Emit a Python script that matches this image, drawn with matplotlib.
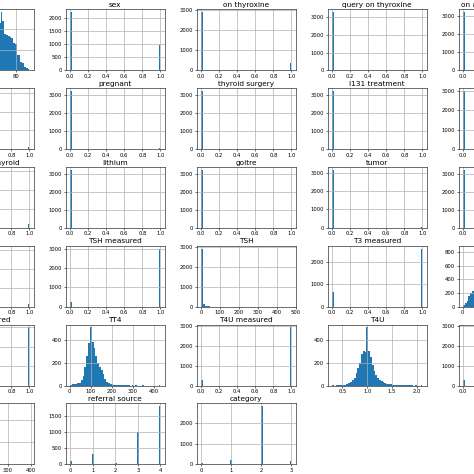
import numpy as np
import matplotlib
matplotlib.use("Agg")
import matplotlib.pyplot as plt

# ---------------- data ----------------
columns = ["age", "sex", "on thyroxine", "query on thyroxine", "on antithyroid medication",
           "sick", "pregnant", "thyroid surgery", "I131 treatment", "query hypothyroid",
           "query hyperthyroid", "lithium", "goitre", "tumor", "hypopituitary",
           "psych", "TSH measured", "TSH", "T3 measured", "T3",
           "TT4 measured", "TT4", "T4U measured", "T4U", "FTI measured",
           "FTI", "referral source", "category"]

# binary columns: counts of 0 and 1
binary_counts = {
    "sex": [2240, 980],
    "on thyroxine": [2880, 370],
    "query on thyroxine": [3280, 10],
    "on antithyroid medication": [3200, 40],
    "sick": [3120, 120],
    "pregnant": [3220, 40],
    "thyroid surgery": [3220, 30],
    "I131 treatment": [3200, 20],
    "query hypothyroid": [3000, 250],
    "query hyperthyroid": [3050, 200],
    "lithium": [3240, 5],
    "goitre": [3210, 20],
    "tumor": [3150, 40],
    "hypopituitary": [3250, 1],
    "psych": [3100, 150],
    "TSH measured": [260, 3000],
    "T3 measured": [650, 2600],
    "TT4 measured": [250, 3000],
    "T4U measured": [300, 2950],
    "FTI measured": [300, 2950],
}

# continuous columns: value range and counts in 50 equal bins
age_range = [1, 94]
age_counts = [5, 3, 5, 8, 10, 12, 15, 25, 40, 45,
              50, 55, 60, 60, 55, 60, 65, 60, 55, 60,
              55, 60, 65, 70, 80, 75, 85, 90, 100, 95,
              110, 120, 105, 115, 140, 120, 88, 86, 82, 80,
              78, 66, 64, 37, 36, 20, 18, 8, 6, 3]

TSH_range = [0.005, 478]
TSH_counts = [2900, 110, 40, 20, 12, 8, 5, 4, 3, 3,
              2, 2, 1, 2, 1, 1, 1, 0, 1, 1,
              0, 1, 0, 0, 1, 0, 0, 1, 0, 0,
              0, 0, 1, 0, 0, 0, 0, 0, 1, 0,
              0, 0, 0, 0, 0, 0, 0, 0, 0, 1]

T3_range = [0.05, 10.6]
T3_counts = [20, 50, 90, 150, 200, 230, 250, 400, 850, 500,
             420, 380, 300, 250, 180, 150, 100, 80, 60, 40,
             30, 25, 15, 10, 8, 6, 5, 4, 3, 3,
             2, 2, 1, 1, 1, 1, 0, 1, 0, 0,
             1, 0, 0, 0, 0, 0, 0, 0, 0, 1]

TT4_range = [2, 430]
TT4_counts = [5, 15, 15, 10, 20, 25, 45, 80, 160, 260,
              380, 515, 390, 330, 260, 200, 165, 140, 100, 60,
              35, 25, 15, 12, 8, 6, 5, 4, 5, 3,
              2, 1, 1, 0, 1, 0, 1, 0, 0, 0,
              1, 0, 0, 0, 0, 0, 0, 0, 0, 1]

T4U_range = [0.29, 2.12]
T4U_counts = [1, 0, 1, 2, 3, 3, 5, 8, 12, 20,
              30, 45, 70, 110, 150, 200, 280, 300, 290, 510,
              300, 250, 180, 130, 90, 70, 50, 40, 28, 20,
              15, 12, 10, 8, 8, 6, 8, 5, 4, 3,
              3, 2, 2, 1, 1, 0, 1, 0, 0, 1]

FTI_range = [2, 395]
FTI_counts = [3, 8, 10, 12, 15, 25, 45, 90, 170, 280,
              420, 520, 400, 330, 250, 200, 140, 100, 70, 50,
              35, 25, 18, 12, 10, 8, 6, 5, 4, 3,
              3, 2, 2, 2, 1, 2, 1, 1, 2, 1,
              1, 0, 1, 0, 1, 0, 0, 1, 0, 1]

referral_values = [0, 1, 2, 3, 4]
referral_counts = [100, 310, 35, 1005, 1800]

category_values = [0, 1, 2, 3]
category_counts = [50, 210, 2820, 160]

# ---------------- layout (pixel geometry of the crop) ----------------
W = H = 474
col_left_px = [-65.5, 65.5, 196.5, 327.5, 458.5]
ax_w_px = 99.5
row_bottom_px = [70.3, 149.1, 227.9, 306.7, 385.5, 464.3]
ax_h_px = 61.0

BAR = "#1f77b4"
TITLE_FS = 5.3
TICK_FS = 3.8

fig = plt.figure(figsize=(W / 100, H / 100), dpi=100)

continuous = {
    "age": (age_range, age_counts),
    "TSH": (TSH_range, TSH_counts),
    "T3": (T3_range, T3_counts),
    "TT4": (TT4_range, TT4_counts),
    "T4U": (T4U_range, T4U_counts),
    "FTI": (FTI_range, FTI_counts),
}

for i, name in enumerate(columns):
    r, c = divmod(i, 5)
    left = col_left_px[c] / W
    bottom = 1 - row_bottom_px[r] / H
    ax = fig.add_axes([left, bottom, ax_w_px / W, ax_h_px / H])

    if name in binary_counts:
        edges = np.linspace(0, 1, 51)
        ax.hist([0, 1], bins=edges, weights=binary_counts[name], color=BAR)
    elif name in continuous:
        rng, cnt = continuous[name]
        edges = np.linspace(rng[0], rng[1], 51)
        centers = (edges[:-1] + edges[1:]) / 2
        ax.hist(centers, bins=edges, weights=cnt, color=BAR)
    elif name == "referral source":
        edges = np.linspace(0, 4, 51)
        ax.hist(referral_values, bins=edges, weights=referral_counts, color=BAR)
    elif name == "category":
        edges = np.linspace(0, 3, 51)
        ax.hist(category_values, bins=edges, weights=category_counts, color=BAR)

    ax.grid(True, color="#b0b0b0", linewidth=0.5)
    ax.set_title(name, fontsize=TITLE_FS, pad=1.6)
    ax.tick_params(labelsize=TICK_FS, length=1.5, width=0.4, pad=1)
    for s in ax.spines.values():
        s.set_linewidth(0.5)
        s.set_color("#333333")

fig.savefig("out.png", dpi=100)
